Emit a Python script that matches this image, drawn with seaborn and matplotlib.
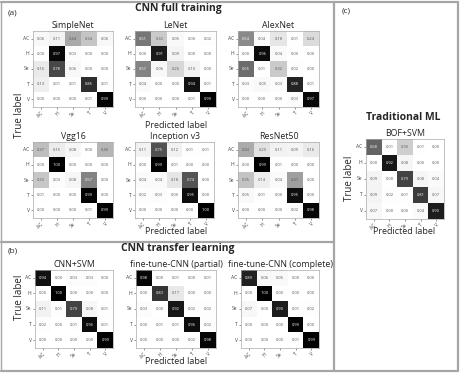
import numpy as np
import matplotlib
matplotlib.use("Agg")
import matplotlib.pyplot as plt
import seaborn as sns

# class labels
labels = ["AC", "H", "Se", "T", "V"]

# confusion matrices (rows = true, cols = predicted)
simplenet = [[0.06, 0.11, 0.44, 0.34, 0.06],
             [0.00, 0.97, 0.03, 0.00, 0.00],
             [0.16, 0.78, 0.06, 0.00, 0.00],
             [0.13, 0.01, 0.01, 0.85, 0.01],
             [0.00, 0.00, 0.00, 0.01, 0.99]]
lenet = [[0.61, 0.32, 0.05, 0.00, 0.02],
         [0.00, 0.91, 0.09, 0.00, 0.00],
         [0.57, 0.06, 0.26, 0.10, 0.00],
         [0.04, 0.00, 0.00, 0.94, 0.01],
         [0.00, 0.00, 0.00, 0.01, 0.99]]
alexnet = [[0.54, 0.04, 0.18, 0.01, 0.24],
           [0.00, 0.96, 0.04, 0.00, 0.00],
           [0.65, 0.01, 0.32, 0.02, 0.00],
           [0.03, 0.05, 0.03, 0.88, 0.01],
           [0.00, 0.00, 0.00, 0.03, 0.97]]
vgg16 = [[0.37, 0.15, 0.08, 0.00, 0.40],
         [0.00, 1.00, 0.00, 0.00, 0.00],
         [0.33, 0.03, 0.08, 0.57, 0.00],
         [0.01, 0.00, 0.00, 0.99, 0.00],
         [0.00, 0.00, 0.00, 0.01, 0.99]]
inception = [[0.11, 0.75, 0.12, 0.01, 0.01],
             [0.00, 0.99, 0.01, 0.00, 0.00],
             [0.04, 0.04, 0.18, 0.74, 0.00],
             [0.02, 0.03, 0.00, 0.95, 0.00],
             [0.00, 0.00, 0.00, 0.00, 1.00]]
resnet50 = [[0.43, 0.20, 0.11, 0.09, 0.16],
            [0.00, 0.99, 0.01, 0.00, 0.00],
            [0.35, 0.14, 0.04, 0.47, 0.00],
            [0.05, 0.01, 0.00, 0.95, 0.00],
            [0.00, 0.00, 0.00, 0.02, 0.98]]
bof_svm = [[0.68, 0.01, 0.30, 0.01, 0.00],
           [0.00, 0.92, 0.08, 0.00, 0.00],
           [0.09, 0.00, 0.79, 0.08, 0.04],
           [0.09, 0.02, 0.01, 0.81, 0.07],
           [0.07, 0.00, 0.00, 0.04, 0.90]]
cnn_svm = [[0.94, 0.00, 0.03, 0.03, 0.00],
           [0.00, 1.00, 0.00, 0.00, 0.00],
           [0.11, 0.01, 0.79, 0.08, 0.01],
           [0.02, 0.00, 0.01, 0.96, 0.01],
           [0.00, 0.00, 0.00, 0.00, 0.99]]
ft_partial = [[0.98, 0.00, 0.01, 0.00, 0.01],
              [0.00, 0.83, 0.17, 0.00, 0.00],
              [0.03, 0.00, 0.92, 0.02, 0.02],
              [0.00, 0.01, 0.01, 0.96, 0.02],
              [0.00, 0.00, 0.00, 0.02, 0.98]]
ft_complete = [[0.89, 0.06, 0.05, 0.00, 0.00],
               [0.00, 1.00, 0.00, 0.00, 0.00],
               [0.07, 0.00, 0.90, 0.01, 0.02],
               [0.00, 0.00, 0.00, 0.99, 0.00],
               [0.00, 0.00, 0.00, 0.01, 0.99]]

W, H = 474, 381
sns.set_style("white")
plt.rcParams['font.family'] = ['Open Sans', 'DejaVu Sans']
fig = plt.figure(figsize=(W / 100, H / 100), dpi=100)


def px_axes(x0, y0, x1, y1):
    return fig.add_axes([x0 / W, 1 - y1 / H, (x1 - x0) / W, (y1 - y0) / H])


def ftext(x, y, s, **kw):
    fig.text(x / W, 1 - y / H, s, **kw)


def draw_cm(data, title, box):
    ax = px_axes(*box)
    sns.heatmap(np.array(data), ax=ax, cmap="Greys", vmin=0, vmax=1, cbar=False,
                annot=True, fmt=".2f", annot_kws={"fontsize": 2.9},
                xticklabels=labels, yticklabels=labels)
    for t in ax.texts:
        v = float(t.get_text())
        t.set_color("white" if v > 0.5 else "#555555")
    ax.set_title(title, fontsize=6.3, pad=2.5, color="#222222")
    ax.tick_params(axis="y", labelsize=3.6, length=1.5, width=0.4, pad=1, rotation=0)
    ax.tick_params(axis="x", labelsize=3.6, length=1.5, width=0.4, pad=1)
    plt.setp(ax.get_xticklabels(), rotation=45, ha="right", rotation_mode="anchor")
    ax.tick_params(left=True, bottom=True, colors="#444444")
    for s in ax.spines.values():
        s.set_visible(True)
        s.set_color("#aaaaaa")
        s.set_linewidth(0.5)
    return ax


# panel (a): CNN full training
draw_cm(simplenet, "SimpleNet", (33, 31, 113, 107))
draw_cm(lenet, "LeNet", (135, 31, 216, 107))
draw_cm(alexnet, "AlexNet", (238, 31, 319, 107))
draw_cm(vgg16, "Vgg16", (33, 142, 113, 218))
draw_cm(inception, "Inception v3", (135, 142, 214, 218))
draw_cm(resnet50, "ResNet50", (238, 142, 319, 218))

# panel (c): traditional ML
draw_cm(bof_svm, "BOF+SVM", (366, 139, 444, 219))

# panel (b): CNN transfer learning
draw_cm(cnn_svm, "CNN+SVM", (35, 270, 113, 348))
draw_cm(ft_partial, "fine-tune-CNN (partial)", (136, 270, 216, 348))
draw_cm(ft_complete, "fine-tune-CNN (complete)", (241, 270, 319, 348))

# headers and shared labels
ftext(8, 13, "(a)", fontsize=6, va="center")
ftext(178, 8, "CNN full training", fontsize=7.5, fontweight="bold", ha="center", va="center")
ftext(8, 251, "(b)", fontsize=6, va="center")
ftext(178, 248, "CNN transfer learning", fontsize=7.5, fontweight="bold", ha="center", va="center")
ftext(342, 11, "(c)", fontsize=6, va="center")
ftext(403, 118, "Traditional ML", fontsize=7.5, fontweight="bold", ha="center", va="center")

ftext(20, 115, "True label", fontsize=7, rotation=90, ha="center", va="center")
ftext(20, 297, "True label", fontsize=7, rotation=90, ha="center", va="center")
ftext(350, 178, "True label", fontsize=7, rotation=90, ha="center", va="center")
ftext(176, 125, "Predicted label", fontsize=6.5, ha="center", va="center")
ftext(176, 232, "Predicted label", fontsize=6.5, ha="center", va="center")
ftext(176, 361, "Predicted label", fontsize=6.5, ha="center", va="center")
ftext(404, 232, "Predicted label", fontsize=6.5, ha="center", va="center")

# panel frames
frame = fig.add_axes([0, 0, 1, 1], zorder=-1)
frame.set_xlim(0, W)
frame.set_ylim(H, 0)
frame.axis("off")
fc = "#a6a6a6"
frame.plot([1, 458], [2, 2], color=fc, lw=1.6)
frame.plot([1, 334], [242, 242], color=fc, lw=1.6)
frame.plot([1, 458], [371, 371], color=fc, lw=1.6)
frame.plot([334, 334], [2, 371], color=fc, lw=1.6)
frame.plot([458, 458], [2, 371], color=fc, lw=1.6)
frame.plot([1, 1], [2, 371], color=fc, lw=1.0)

fig.savefig("out.png", dpi=100)
